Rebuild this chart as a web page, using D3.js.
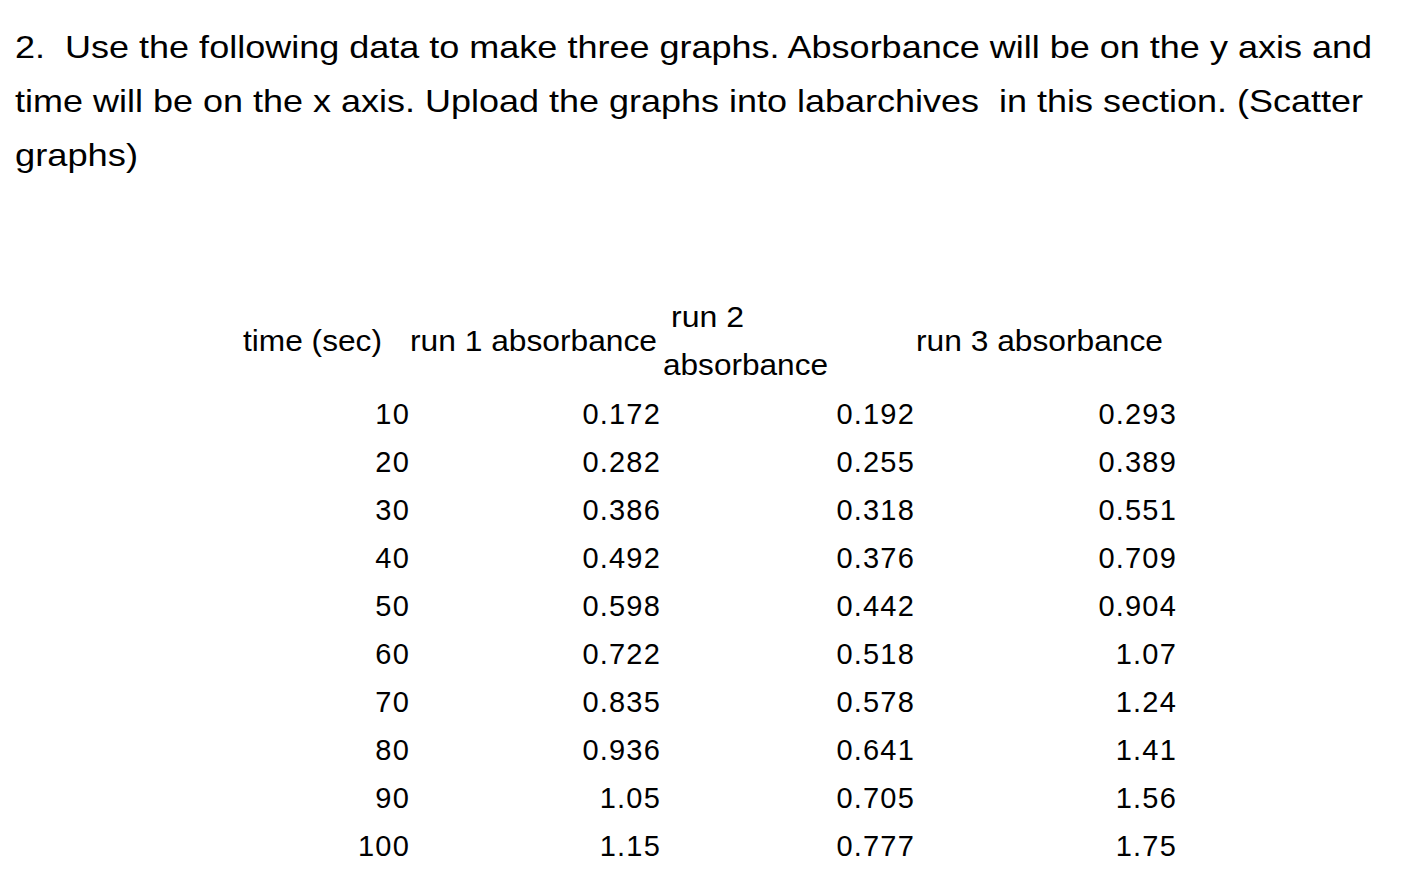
<!DOCTYPE html>
<html>
<head>
<meta charset="utf-8">
<script src="https://cdn.jsdelivr.net/npm/d3@7"></script>
<style>
  body { margin: 0; background: #fff; }
  svg { font-family: "Liberation Sans", Arial, sans-serif; }
</style>
</head>
<body>
<svg id="chart" width="1404" height="896"></svg>
<script>
const TITLE_LINES = [
  "2.  Use the following data to make three graphs. Absorbance will be on the y axis and",
  "time will be on the x axis. Upload the graphs into labarchives  in this section. (Scatter",
  "graphs)"
];
const TITLE_WIDTHS = [1357, 1348, 123];

const times = [10, 20, 30, 40, 50, 60, 70, 80, 90, 100];
const run1 = ["0.172", "0.282", "0.386", "0.492", "0.598", "0.722", "0.835", "0.936", "1.05", "1.15"];
const run2 = ["0.192", "0.255", "0.318", "0.376", "0.442", "0.518", "0.578", "0.641", "0.705", "0.777"];
const run3 = ["0.293", "0.389", "0.551", "0.709", "0.904", "1.07", "1.24", "1.41", "1.56", "1.75"];

const svg = d3.select("#chart");

svg.selectAll(".title")
  .data(TITLE_LINES)
  .enter()
  .append("text")
  .attr("class", "title")
  .attr("x", 15)
  .attr("y", (d, i) => 58 + i * 54)
  .attr("font-size", "32px")
  .attr("fill", "#000")
  .attr("xml:space", "preserve")
  .attr("textLength", (d, i) => TITLE_WIDTHS[i])
  .attr("lengthAdjust", "spacingAndGlyphs")
  .text(d => d);

// header
const headers = [
  { t: "time (sec)", x: 243, y: 351, w: 139 },
  { t: "run 1 absorbance", x: 410, y: 351, w: 247 },
  { t: "run 2", x: 671, y: 327, w: 73 },
  { t: "absorbance", x: 663, y: 375, w: 165 },
  { t: "run 3 absorbance", x: 916, y: 351, w: 247 }
];
svg.append("g")
  .selectAll("text")
  .data(headers)
  .enter()
  .append("text")
  .attr("x", d => d.x)
  .attr("y", d => d.y)
  .attr("font-size", "29px")
  .attr("fill", "#000")
  .attr("textLength", d => d.w)
  .attr("lengthAdjust", "spacingAndGlyphs")
  .text(d => d.t);

const y = d3.scalePoint()
  .domain(d3.range(times.length))
  .range([413, 845]);

const columns = [
  { values: times, right: 410 },
  { values: run1, right: 661 },
  { values: run2, right: 915 },
  { values: run3, right: 1177 }
];

columns.forEach(col => {
  svg.append("g")
    .selectAll("text")
    .data(col.values)
    .enter()
    .append("text")
    .attr("x", col.right)
    .attr("y", (d, i) => y(i) + 11)
    .attr("text-anchor", "end")
    .attr("font-size", "29px")
    .attr("letter-spacing", "1.2px")
    .attr("fill", "#000")
    .text(d => d);
});
</script>
</body>
</html>
